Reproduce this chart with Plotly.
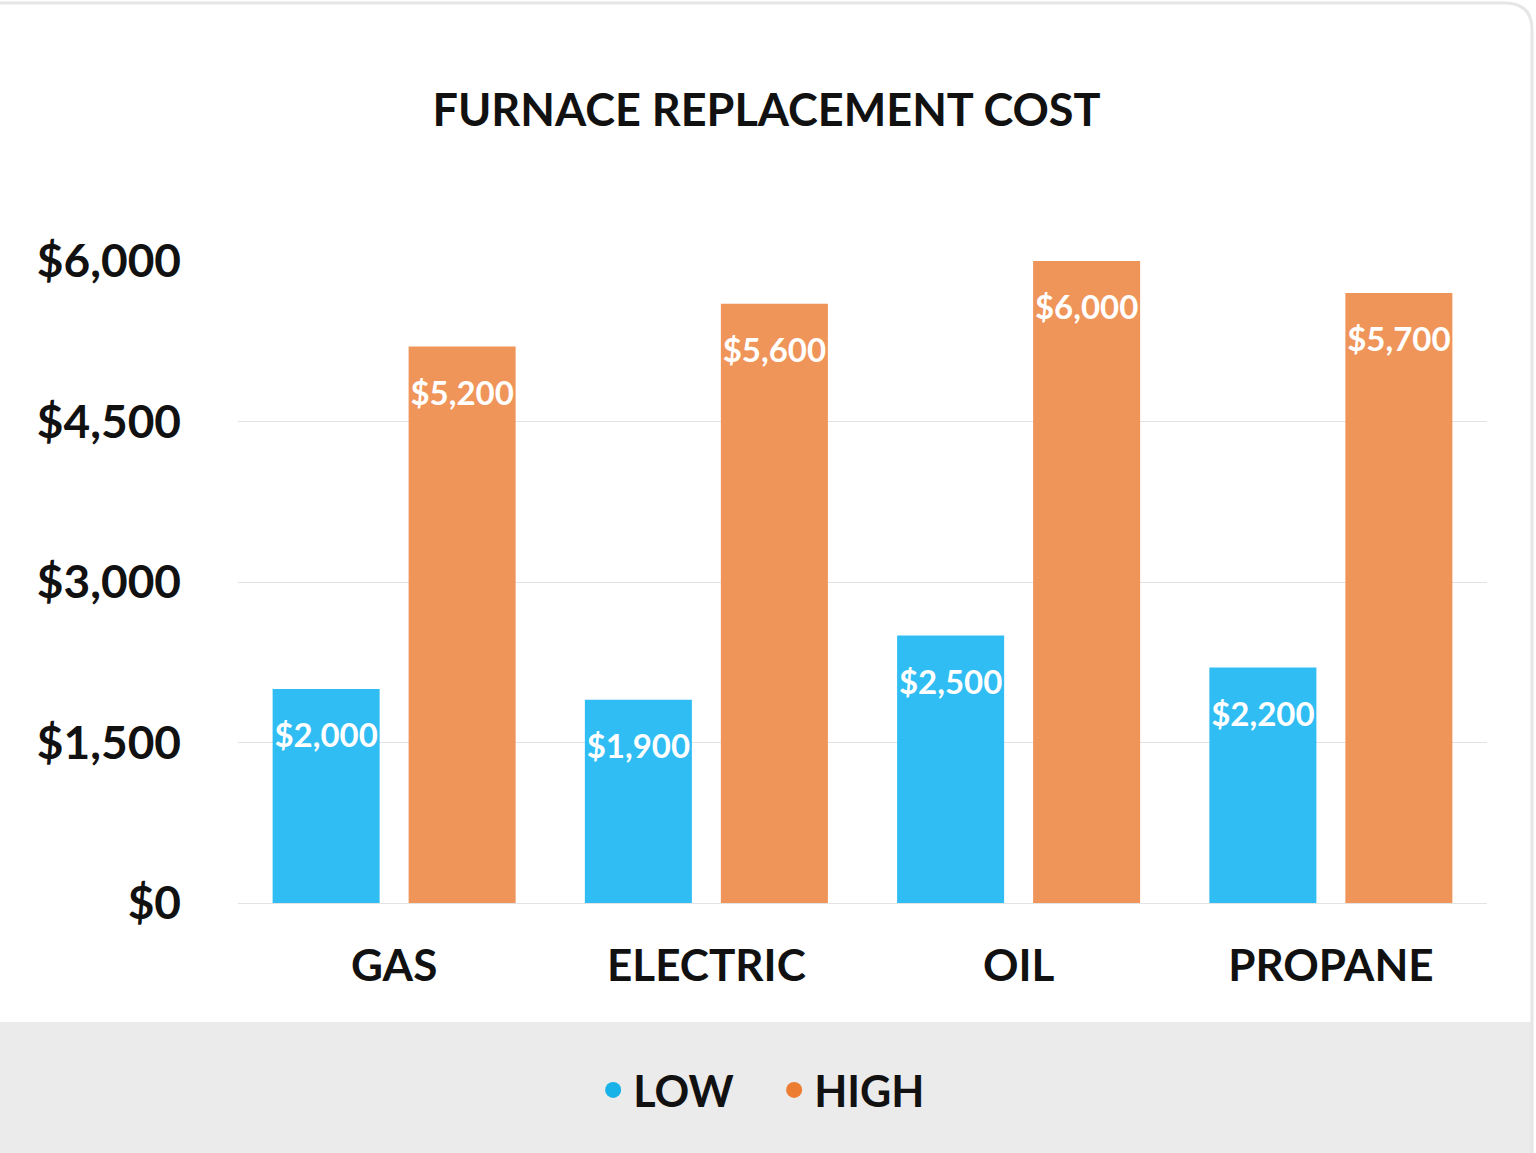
import plotly.graph_objects as go

categories = ["GAS", "ELECTRIC", "OIL", "PROPANE"]
low_values = [2000, 1900, 2500, 2200]
high_values = [5200, 5600, 6000, 5700]
y_tick_values = [0, 1500, 3000, 4500, 6000]
y_tick_labels = ["$0", "$1,500", "$3,000", "$4,500", "$6,000"]
series_names = ["LOW", "HIGH"]

W, H = 1536, 1153
L, R, T, B = 238, 1536 - 1487, 261, 1153 - 903
PW, PH = W - L - R, H - T - B

def px(x):
    return (x - L) / PW

def py(y):
    return (H - B - y) / PH

FONT = "Lato"
BLUE = "#30bdf3"
ORANGE = "#f0955a"
BLUE_DOT = "#19b2e8"
ORANGE_DOT = "#ee7d34"

fig = go.Figure()
for name, vals, col in [(series_names[0], low_values, BLUE), (series_names[1], high_values, ORANGE)]:
    fig.add_trace(go.Bar(
        x=categories, y=vals, name=name, marker=dict(color=col, line=dict(width=0)),
        text=[f"${v:,}" for v in vals],
        texttemplate="&nbsp;<br><span style='font-size:33px'>%{text}</span>",
        textposition="inside", insidetextanchor="end", constraintext="none", textangle=0,
        textfont=dict(family=FONT, size=24, color="white", weight="bold"),
        showlegend=False, hoverinfo="skip",
    ))

for name, col in [(series_names[0], BLUE_DOT), (series_names[1], ORANGE_DOT)]:
    fig.add_trace(go.Scatter(
        x=[None], y=[None], mode="markers", name=name,
        marker=dict(symbol="circle", size=18, color=col), showlegend=True,
    ))

shapes = [
    dict(type="rect", xref="paper", yref="paper", x0=px(0), x1=px(1532), y0=py(1153), y1=py(1022),
         fillcolor="#ebebeb", line=dict(width=0), layer="below"),
    dict(type="path", xref="paper", yref="paper",
         path=f"M {px(0)},{py(3)} L {px(1505)},{py(3)} Q {px(1532)},{py(3)} {px(1532)},{py(30)} L {px(1532)},{py(1153)}",
         line=dict(color="#e6e6e6", width=3), layer="below"),
]

fig.update_layout(
    width=W, height=H,
    margin=dict(l=L, r=R, t=T, b=B, autoexpand=False),
    paper_bgcolor="white", plot_bgcolor="white",
    barmode="group", bargap=0.129, bargroupgap=0.213,
    title=dict(text="<b>FURNACE REPLACEMENT COST</b>", xref="container", yref="container",
               x=0.499, y=1 - 110 / H, xanchor="center", yanchor="middle",
               font=dict(family=FONT, size=45, color="#111111")),
    xaxis=dict(showgrid=False, showline=False, ticks="", ticklabelstandoff=33,
               tickfont=dict(family=FONT, size=44, color="#111111", weight="bold")),
    yaxis=dict(range=[0, 6000], tickvals=y_tick_values, ticktext=y_tick_labels,
               showgrid=True, gridcolor="#e3e3e3", gridwidth=1, zeroline=True,
               zerolinecolor="#e3e3e3", zerolinewidth=1, showline=False, ticks="",
               ticklabelstandoff=56,
               tickfont=dict(family=FONT, size=46, color="#111111", weight="bold")),
    legend=dict(orientation="h", xref="container", yref="container", x=0.504, xanchor="center",
                y=1 - 1090 / H, yanchor="middle", bgcolor="rgba(0,0,0,0)",
                font=dict(family=FONT, size=43, color="#111111", weight="bold"),
                itemwidth=30, entrywidth=136, tracegroupgap=0),
    shapes=shapes,
)

fig.write_html("out.html")
